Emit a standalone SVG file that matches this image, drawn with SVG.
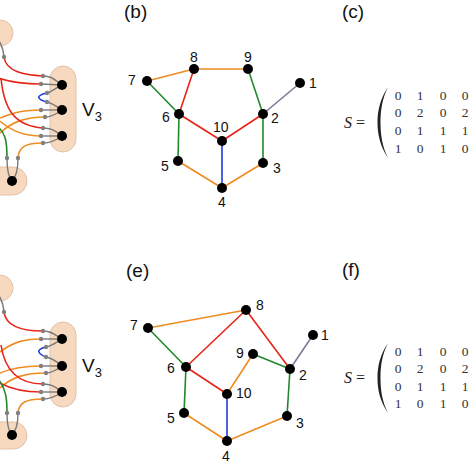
<svg xmlns="http://www.w3.org/2000/svg" width="474" height="474" viewBox="0 0 474 474">
<style>
.blob{fill:#F7D9BF;stroke:#E2C3A8;stroke-width:1}
.nd{fill:#000}
.gd{fill:#808080}
.g{fill:none;stroke:#7a7a7a;stroke-width:1.4}
.e{fill:none;stroke-width:1.6}
.or{stroke:#EE8C22}
.rd{stroke:#E82418}
.gr{stroke:#22882A}
.bl{stroke:#1E3CDC}
.pu{stroke:#7C7A96}
.lb{font-family:"Liberation Sans",Arial,sans-serif;font-size:14px;fill:#111}
.pl{font-family:"Liberation Sans",Arial,sans-serif;font-size:19px;fill:#111}
.mx{font-family:"Liberation Serif","Times New Roman",serif;font-size:13.5px;fill:#333;text-anchor:middle}
.sq{font-family:"Liberation Serif","Times New Roman",serif;font-size:16px;fill:#222}
.par{fill:#222}
</style>

<!-- Panel (a) -->
<g id="panel-a">
<circle class="blob" cx="0" cy="33" r="13"/>
<rect class="blob" x="50" y="66" width="26" height="86" rx="13"/>
<rect class="blob" x="-20" y="167" width="47" height="28" rx="14"/>
<g id="a-connectors">
<path class="g" d="M-3,38 Q3,45 4,57"/>
<path class="e rd" d="M4,57 C6,72 25,75 43,76"/>
<path class="g" d="M43,76 C52,76 55,80 62,85"/>
<path class="e rd" d="M-2,78 C10,82 25,84 41,84"/>
<path class="g" d="M41,84 L62,85"/>
<path class="g" d="M62,85 C55,88 52,92 47,93"/>
<path class="e bl" d="M47,93 C40,94 38,97 39,98 C40,100 43,101 47,102"/>
<path class="g" d="M47,102 C52,103 56,106 62,110"/>
<path class="g" d="M62,110 L41,110"/>
<path class="g" d="M62,110 C55,115 50,117 45,117"/>
<path class="e or" d="M41,110 C25,110 15,112 0,118"/>
<path class="e or" d="M45,117 C25,117 12,122 0,133"/>
<path class="e rd" d="M1,78 C4,110 15,126 43,128"/>
<path class="g" d="M43,128 C52,128 55,131 62,136"/>
<path class="g" d="M62,136 L41,136"/>
<path class="g" d="M62,136 C55,141 50,143 43,143"/>
<path class="e or" d="M41,136 C22,136 10,130 0,121"/>
<path class="e or" d="M43,143 C25,143 19,147 18,158"/>
<path class="e gr" d="M-2,127 C5,133 7,140 7,158"/>
<path class="g" d="M7,158 C7,170 9,178 12,181"/>
<path class="g" d="M18,158 C18,170 15,178 12,181"/>
</g>
<g id="a-dots">
<circle class="gd" cx="4" cy="57" r="2.2"/>
<circle class="gd" cx="43" cy="76" r="2.2"/>
<circle class="gd" cx="41" cy="84" r="2.2"/>
<circle class="gd" cx="47" cy="93" r="2.2"/>
<circle class="gd" cx="47" cy="102" r="2.2"/>
<circle class="gd" cx="41" cy="110" r="2.2"/>
<circle class="gd" cx="45" cy="117" r="2.2"/>
<circle class="gd" cx="43" cy="128" r="2.2"/>
<circle class="gd" cx="41" cy="136" r="2.2"/>
<circle class="gd" cx="43" cy="143" r="2.2"/>
<circle class="gd" cx="7" cy="158" r="2.2"/>
<circle class="gd" cx="18" cy="158" r="2.2"/>
</g>
<g id="a-nodes">
<circle class="nd" cx="62" cy="85" r="5"/>
<circle class="nd" cx="62" cy="110" r="5"/>
<circle class="nd" cx="62" cy="136" r="5"/>
<circle class="nd" cx="12" cy="181" r="5"/>
</g>
<text class="pl" x="82" y="116">V<tspan font-size="13" dy="5">3</tspan></text>
</g>

<!-- Panel (b) -->
<text class="pl" x="124" y="18">(b)</text>
<g id="b-connectors">
<line class="e or" x1="147" y1="81" x2="194" y2="69"/>
<line class="e or" x1="194" y1="69" x2="248" y2="69"/>
<line class="e gr" x1="248" y1="69" x2="263" y2="114"/>
<line class="e pu" x1="263" y1="114" x2="300" y2="83"/>
<line class="e gr" x1="147" y1="81" x2="179" y2="114"/>
<line class="e rd" x1="194" y1="69" x2="179" y2="114"/>
<line class="e rd" x1="179" y1="114" x2="222" y2="141"/>
<line class="e rd" x1="222" y1="141" x2="263" y2="114"/>
<line class="e gr" x1="179" y1="114" x2="178" y2="161"/>
<line class="e gr" x1="263" y1="114" x2="263" y2="163"/>
<line class="e bl" x1="222" y1="141" x2="222" y2="188"/>
<line class="e or" x1="178" y1="161" x2="222" y2="188"/>
<line class="e or" x1="263" y1="163" x2="222" y2="188"/>
</g>
<g id="b-n1"><circle class="nd" cx="300" cy="83" r="5"/><text class="lb" x="309" y="88">1</text></g>
<g id="b-n2"><circle class="nd" cx="263" cy="114" r="5"/><text class="lb" x="271" y="123">2</text></g>
<g id="b-n3"><circle class="nd" cx="263" cy="163" r="5"/><text class="lb" x="273" y="173">3</text></g>
<g id="b-n4"><circle class="nd" cx="222" cy="188" r="5"/><text class="lb" x="218" y="207">4</text></g>
<g id="b-n5"><circle class="nd" cx="178" cy="161" r="5"/><text class="lb" x="161" y="171">5</text></g>
<g id="b-n6"><circle class="nd" cx="179" cy="114" r="5"/><text class="lb" x="162" y="122">6</text></g>
<g id="b-n7"><circle class="nd" cx="147" cy="81" r="5"/><text class="lb" x="128" y="85">7</text></g>
<g id="b-n8"><circle class="nd" cx="194" cy="69" r="5"/><text class="lb" x="190" y="62">8</text></g>
<g id="b-n9"><circle class="nd" cx="248" cy="69" r="5"/><text class="lb" x="244" y="62">9</text></g>
<g id="b-n10"><circle class="nd" cx="222" cy="141" r="5"/><text class="lb" x="213" y="132">10</text></g>

<!-- Panel (c) -->
<g id="panel-c">
<text class="pl" x="342" y="18">(c)</text>
<text class="sq" x="344" y="128"><tspan font-style="italic">S</tspan> =</text>
<path class="par" d="M388,87 C380,99 377.5,111 377.5,122.5 C377.5,134 380,146 388,158 C382,146 380.5,134 380.5,122.5 C380.5,111 382,99 388,87 Z"/>
<text class="mx" y="100"><tspan x="398">0</tspan><tspan x="420">1</tspan><tspan x="443">0</tspan><tspan x="465">0</tspan></text>
<text class="mx" y="117"><tspan x="398">0</tspan><tspan x="420">2</tspan><tspan x="443">0</tspan><tspan x="465">2</tspan></text>
<text class="mx" y="135"><tspan x="398">0</tspan><tspan x="420">1</tspan><tspan x="443">1</tspan><tspan x="465">1</tspan></text>
<text class="mx" y="153"><tspan x="398">1</tspan><tspan x="420">0</tspan><tspan x="443">1</tspan><tspan x="465">0</tspan></text>
</g>

<!-- Panel (d) -->
<g id="panel-d">
<circle class="blob" cx="0" cy="288" r="13"/>
<rect class="blob" x="50" y="322" width="26" height="85" rx="13"/>
<rect class="blob" x="-20" y="422" width="47" height="27" rx="13.5"/>
<g id="d-connectors">
<path class="g" d="M-3,293 Q3,300 4,312"/>
<path class="e rd" d="M4,312 C6,328 25,331 43,331"/>
<path class="g" d="M43,331 C52,331 55,335 62,339"/>
<path class="g" d="M62,339 L41,339"/>
<path class="e or" d="M41,339 C22,339 12,343 0,352"/>
<path class="g" d="M62,339 C55,343 52,346 46,347"/>
<path class="e bl" d="M46,347 C40,348 38,351 39,352 C40,354 43,356 46,357"/>
<path class="g" d="M46,357 C52,358 56,361 62,366"/>
<path class="g" d="M62,366 L41,366"/>
<path class="g" d="M62,366 C55,371 51,373 46,373"/>
<path class="e or" d="M41,366 C25,366 12,368 0,373"/>
<path class="e or" d="M46,373 C25,373 12,377 0,388"/>
<path class="e rd" d="M43,384 C20,384 5,372 1,345"/>
<path class="g" d="M43,384 C52,384 55,387 62,392"/>
<path class="e rd" d="M-2,382 C12,390 25,392 41,392"/>
<path class="g" d="M41,392 L62,392"/>
<path class="g" d="M62,392 C55,397 50,399 43,399"/>
<path class="e or" d="M43,399 C25,399 19,403 18,413"/>
<path class="e gr" d="M-1,380 C6,390 7,398 7,413"/>
<path class="g" d="M7,413 C7,425 9,432 12,435"/>
<path class="g" d="M18,413 C18,425 15,432 12,435"/>
</g>
<g id="d-dots">
<circle class="gd" cx="4" cy="312" r="2.2"/>
<circle class="gd" cx="43" cy="331" r="2.2"/>
<circle class="gd" cx="41" cy="339" r="2.2"/>
<circle class="gd" cx="46" cy="347" r="2.2"/>
<circle class="gd" cx="46" cy="357" r="2.2"/>
<circle class="gd" cx="41" cy="366" r="2.2"/>
<circle class="gd" cx="46" cy="373" r="2.2"/>
<circle class="gd" cx="43" cy="384" r="2.2"/>
<circle class="gd" cx="41" cy="392" r="2.2"/>
<circle class="gd" cx="43" cy="399" r="2.2"/>
<circle class="gd" cx="7" cy="413" r="2.2"/>
<circle class="gd" cx="18" cy="413" r="2.2"/>
</g>
<g id="d-nodes">
<circle class="nd" cx="62" cy="339" r="5"/>
<circle class="nd" cx="62" cy="366" r="5"/>
<circle class="nd" cx="62" cy="392" r="5"/>
<circle class="nd" cx="12" cy="435" r="5"/>
</g>
<text class="pl" x="82" y="372">V<tspan font-size="13" dy="5">3</tspan></text>
</g>

<!-- Panel (e) -->
<text class="pl" x="126" y="277">(e)</text>
<g id="e-connectors">
<line class="e or" x1="148" y1="328" x2="246" y2="310"/>
<line class="e gr" x1="148" y1="328" x2="186" y2="367"/>
<line class="e rd" x1="246" y1="310" x2="186" y2="367"/>
<line class="e rd" x1="246" y1="310" x2="290" y2="369"/>
<line class="e gr" x1="253" y1="354" x2="290" y2="369"/>
<line class="e or" x1="253" y1="354" x2="227" y2="394"/>
<line class="e pu" x1="290" y1="369" x2="313" y2="335"/>
<line class="e rd" x1="186" y1="367" x2="227" y2="394"/>
<line class="e gr" x1="186" y1="367" x2="184" y2="413"/>
<line class="e gr" x1="290" y1="369" x2="287" y2="416"/>
<line class="e bl" x1="227" y1="394" x2="227" y2="441"/>
<line class="e or" x1="184" y1="413" x2="227" y2="441"/>
<line class="e or" x1="287" y1="416" x2="227" y2="441"/>
</g>
<g id="e-n1"><circle class="nd" cx="313" cy="335" r="5"/><text class="lb" x="321" y="340">1</text></g>
<g id="e-n2"><circle class="nd" cx="290" cy="369" r="5"/><text class="lb" x="299" y="380">2</text></g>
<g id="e-n3"><circle class="nd" cx="287" cy="416" r="5"/><text class="lb" x="296" y="428">3</text></g>
<g id="e-n4"><circle class="nd" cx="227" cy="441" r="5"/><text class="lb" x="222" y="461">4</text></g>
<g id="e-n5"><circle class="nd" cx="184" cy="413" r="5"/><text class="lb" x="167" y="423">5</text></g>
<g id="e-n6"><circle class="nd" cx="186" cy="367" r="5"/><text class="lb" x="167" y="373">6</text></g>
<g id="e-n7"><circle class="nd" cx="148" cy="328" r="5"/><text class="lb" x="130" y="330">7</text></g>
<g id="e-n8"><circle class="nd" cx="246" cy="310" r="5"/><text class="lb" x="256" y="310">8</text></g>
<g id="e-n9"><circle class="nd" cx="253" cy="354" r="5"/><text class="lb" x="236" y="358">9</text></g>
<g id="e-n10"><circle class="nd" cx="227" cy="394" r="5"/><text class="lb" x="236" y="398">10</text></g>

<!-- Panel (f) -->
<g id="panel-f">
<text class="pl" x="342" y="276">(f)</text>
<text class="sq" x="344" y="383"><tspan font-style="italic">S</tspan> =</text>
<path class="par" d="M388,343 C380,355 377.5,366 377.5,378 C377.5,390 380,401 388,413 C382,401 380.5,390 380.5,378 C380.5,366 382,355 388,343 Z"/>
<text class="mx" y="356"><tspan x="398">0</tspan><tspan x="420">1</tspan><tspan x="443">0</tspan><tspan x="465">0</tspan></text>
<text class="mx" y="373"><tspan x="398">0</tspan><tspan x="420">2</tspan><tspan x="443">0</tspan><tspan x="465">2</tspan></text>
<text class="mx" y="391"><tspan x="398">0</tspan><tspan x="420">1</tspan><tspan x="443">1</tspan><tspan x="465">1</tspan></text>
<text class="mx" y="408"><tspan x="398">1</tspan><tspan x="420">0</tspan><tspan x="443">1</tspan><tspan x="465">0</tspan></text>
</g>
</svg>
